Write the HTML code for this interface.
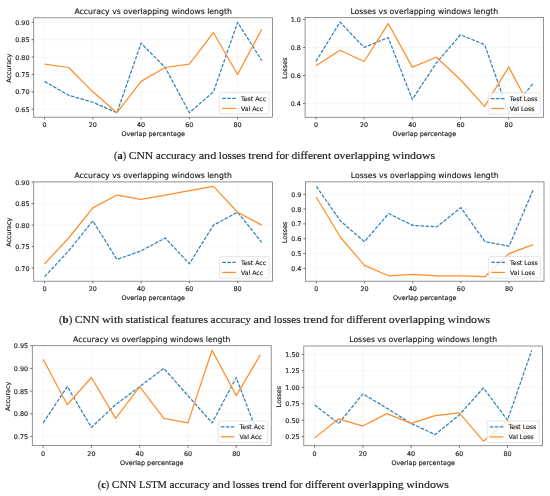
<!DOCTYPE html>
<html lang="en"><head><meta charset="utf-8"><title>Accuracy and losses trend for different overlapping windows</title>
<style>
html,body{margin:0;padding:0;background:#fff}
body{width:550px;height:496px;overflow:hidden}
svg{display:block;filter:blur(.33px)}
.t{font-family:"DejaVu Sans","Liberation Sans",sans-serif;font-size:6.4px;fill:#1c1c1c;stroke:#1c1c1c;stroke-width:.15}
.ti{font-family:"DejaVu Sans","Liberation Sans",sans-serif;font-size:7.72px;fill:#1c1c1c;stroke:#1c1c1c;stroke-width:.15}
.cap{font-family:"Liberation Serif","DejaVu Serif",serif;font-size:10.9px;fill:#1c1c1c;stroke:#1c1c1c;stroke-width:.16}
.lt{font-size:6.2px}
.gr{stroke:#b0b0b0;stroke-width:.5;stroke-opacity:.2;fill:none}
.tk{stroke:#555;stroke-width:.85;fill:none}
.fr{stroke:#707070;stroke-width:.75;fill:none}
.ln{fill:none;stroke-width:1.25;stroke-linejoin:round;stroke-linecap:butt}
.lg{fill:#fff;fill-opacity:.8;stroke:#ccc;stroke-width:.6;stroke-opacity:.8}
</style></head>
<body>
<svg width="550" height="496" viewBox="0 0 550 496">
<rect width="550" height="496" fill="#fff"/>
<g><rect x="33.7" y="17.8" width="238.9" height="99.4" fill="#fff"/>
<line x1="44.56" y1="17.8" x2="44.56" y2="117.2" class="gr"/>
<line x1="92.82" y1="17.8" x2="92.82" y2="117.2" class="gr"/>
<line x1="141.08" y1="17.8" x2="141.08" y2="117.2" class="gr"/>
<line x1="189.35" y1="17.8" x2="189.35" y2="117.2" class="gr"/>
<line x1="237.61" y1="17.8" x2="237.61" y2="117.2" class="gr"/>
<line x1="33.7" y1="109.21" x2="272.6" y2="109.21" class="gr"/>
<line x1="33.7" y1="91.83" x2="272.6" y2="91.83" class="gr"/>
<line x1="33.7" y1="74.45" x2="272.6" y2="74.45" class="gr"/>
<line x1="33.7" y1="57.07" x2="272.6" y2="57.07" class="gr"/>
<line x1="33.7" y1="39.7" x2="272.6" y2="39.7" class="gr"/>
<line x1="33.7" y1="22.32" x2="272.6" y2="22.32" class="gr"/>
<clipPath id="cp0"><rect x="33.7" y="17.8" width="238.9" height="99.4"/></clipPath>
<g clip-path="url(#cp0)"><polyline points="44.56,81.4 68.69,95.3 92.82,102.26 116.95,112.68 141.08,43.17 165.22,67.5 189.35,112.68 213.48,91.83 237.61,22.32 261.74,60.55" class="ln" stroke="#3282bf" stroke-dasharray="3.6 1.42"/>
<polyline points="44.56,64.02 68.69,67.5 92.82,91.83 116.95,112.68 141.08,81.4 165.22,67.5 189.35,64.02 213.48,32.74 237.61,74.45 261.74,29.27" class="ln" stroke="#ff8e2a"/></g>
<line x1="44.56" y1="117.2" x2="44.56" y2="119.3" class="tk"/>
<text x="44.56" y="127.15" class="t" text-anchor="middle">0</text>
<line x1="92.82" y1="117.2" x2="92.82" y2="119.3" class="tk"/>
<text x="92.82" y="127.15" class="t" text-anchor="middle">20</text>
<line x1="141.08" y1="117.2" x2="141.08" y2="119.3" class="tk"/>
<text x="141.08" y="127.15" class="t" text-anchor="middle">40</text>
<line x1="189.35" y1="117.2" x2="189.35" y2="119.3" class="tk"/>
<text x="189.35" y="127.15" class="t" text-anchor="middle">60</text>
<line x1="237.61" y1="117.2" x2="237.61" y2="119.3" class="tk"/>
<text x="237.61" y="127.15" class="t" text-anchor="middle">80</text>
<line x1="31.6" y1="109.21" x2="33.7" y2="109.21" class="tk"/>
<text x="29.5" y="111.76" class="t" text-anchor="end">0.65</text>
<line x1="31.6" y1="91.83" x2="33.7" y2="91.83" class="tk"/>
<text x="29.5" y="94.38" class="t" text-anchor="end">0.70</text>
<line x1="31.6" y1="74.45" x2="33.7" y2="74.45" class="tk"/>
<text x="29.5" y="77" class="t" text-anchor="end">0.75</text>
<line x1="31.6" y1="57.07" x2="33.7" y2="57.07" class="tk"/>
<text x="29.5" y="59.62" class="t" text-anchor="end">0.80</text>
<line x1="31.6" y1="39.7" x2="33.7" y2="39.7" class="tk"/>
<text x="29.5" y="42.25" class="t" text-anchor="end">0.85</text>
<line x1="31.6" y1="22.32" x2="33.7" y2="22.32" class="tk"/>
<text x="29.5" y="24.87" class="t" text-anchor="end">0.90</text>
<rect x="33.7" y="17.8" width="238.9" height="99.4" class="fr"/>
<text x="153.15" y="14" class="ti" text-anchor="middle">Accuracy vs overlapping windows length</text>
<text x="153.15" y="136.25" class="t" text-anchor="middle">Overlap percentage</text>
<text transform="translate(11.15 68.2) rotate(-90)" class="t" text-anchor="middle">Accuracy</text>
<rect x="219.5" y="92.6" width="49.7" height="21.4" rx="1.2" class="lg"/>
<line x1="222.2" y1="98.45" x2="235.8" y2="98.45" class="ln" stroke="#3282bf" stroke-dasharray="3.6 1.42"/>
<line x1="222.2" y1="108.4" x2="235.8" y2="108.4" class="ln" stroke="#ff8e2a"/>
<text x="241" y="100.65" class="t lt">Test Acc</text>
<text x="241" y="110.6" class="t lt">Val Acc</text></g>
<g><rect x="305.1" y="17.6" width="238.5" height="99.7" fill="#fff"/>
<line x1="315.94" y1="17.6" x2="315.94" y2="117.3" class="gr"/>
<line x1="364.12" y1="17.6" x2="364.12" y2="117.3" class="gr"/>
<line x1="412.3" y1="17.6" x2="412.3" y2="117.3" class="gr"/>
<line x1="460.49" y1="17.6" x2="460.49" y2="117.3" class="gr"/>
<line x1="508.67" y1="17.6" x2="508.67" y2="117.3" class="gr"/>
<line x1="305.1" y1="103.63" x2="543.6" y2="103.63" class="gr"/>
<line x1="305.1" y1="75.53" x2="543.6" y2="75.53" class="gr"/>
<line x1="305.1" y1="47.43" x2="543.6" y2="47.43" class="gr"/>
<line x1="305.1" y1="19.32" x2="543.6" y2="19.32" class="gr"/>
<clipPath id="cp1"><rect x="305.1" y="17.6" width="238.5" height="99.7"/></clipPath>
<g clip-path="url(#cp1)"><polyline points="315.94,61.48 340.03,22.13 364.12,47.43 388.21,37.59 412.3,99.42 436.4,62.88 460.49,34.78 484.58,44.62 508.67,112.77 532.76,83.96" class="ln" stroke="#3282bf" stroke-dasharray="3.6 1.42"/>
<polyline points="315.94,65.69 340.03,50.24 364.12,61.48 388.21,23.54 412.3,67.1 436.4,57.26 460.49,79.75 484.58,106.44 508.67,67.1 532.76,112.07" class="ln" stroke="#ff8e2a"/></g>
<line x1="315.94" y1="117.3" x2="315.94" y2="119.4" class="tk"/>
<text x="315.94" y="127.25" class="t" text-anchor="middle">0</text>
<line x1="364.12" y1="117.3" x2="364.12" y2="119.4" class="tk"/>
<text x="364.12" y="127.25" class="t" text-anchor="middle">20</text>
<line x1="412.3" y1="117.3" x2="412.3" y2="119.4" class="tk"/>
<text x="412.3" y="127.25" class="t" text-anchor="middle">40</text>
<line x1="460.49" y1="117.3" x2="460.49" y2="119.4" class="tk"/>
<text x="460.49" y="127.25" class="t" text-anchor="middle">60</text>
<line x1="508.67" y1="117.3" x2="508.67" y2="119.4" class="tk"/>
<text x="508.67" y="127.25" class="t" text-anchor="middle">80</text>
<line x1="303" y1="103.63" x2="305.1" y2="103.63" class="tk"/>
<text x="300.9" y="106.18" class="t" text-anchor="end">0.4</text>
<line x1="303" y1="75.53" x2="305.1" y2="75.53" class="tk"/>
<text x="300.9" y="78.08" class="t" text-anchor="end">0.6</text>
<line x1="303" y1="47.43" x2="305.1" y2="47.43" class="tk"/>
<text x="300.9" y="49.98" class="t" text-anchor="end">0.8</text>
<line x1="303" y1="19.32" x2="305.1" y2="19.32" class="tk"/>
<text x="300.9" y="21.87" class="t" text-anchor="end">1.0</text>
<rect x="305.1" y="17.6" width="238.5" height="99.7" class="fr"/>
<text x="424.35" y="13.8" class="ti" text-anchor="middle">Losses vs overlapping windows length</text>
<text x="424.35" y="136.35" class="t" text-anchor="middle">Overlap percentage</text>
<text transform="translate(286.62 68.15) rotate(-90)" class="t" text-anchor="middle">Losses</text>
<rect x="488.2" y="92.7" width="52" height="21.4" rx="1.2" class="lg"/>
<line x1="490.9" y1="98.55" x2="504.5" y2="98.55" class="ln" stroke="#3282bf" stroke-dasharray="3.6 1.42"/>
<line x1="490.9" y1="108.5" x2="504.5" y2="108.5" class="ln" stroke="#ff8e2a"/>
<text x="509.7" y="100.75" class="t lt">Test Loss</text>
<text x="509.7" y="110.7" class="t lt">Val Loss</text></g>
<g><rect x="33.7" y="181.9" width="238.9" height="99.3" fill="#fff"/>
<line x1="44.56" y1="181.9" x2="44.56" y2="281.2" class="gr"/>
<line x1="92.82" y1="181.9" x2="92.82" y2="281.2" class="gr"/>
<line x1="141.08" y1="181.9" x2="141.08" y2="281.2" class="gr"/>
<line x1="189.35" y1="181.9" x2="189.35" y2="281.2" class="gr"/>
<line x1="237.61" y1="181.9" x2="237.61" y2="281.2" class="gr"/>
<line x1="33.7" y1="268.09" x2="272.6" y2="268.09" class="gr"/>
<line x1="33.7" y1="246.6" x2="272.6" y2="246.6" class="gr"/>
<line x1="33.7" y1="225.1" x2="272.6" y2="225.1" class="gr"/>
<line x1="33.7" y1="203.61" x2="272.6" y2="203.61" class="gr"/>
<line x1="33.7" y1="182.11" x2="272.6" y2="182.11" class="gr"/>
<clipPath id="cp2"><rect x="33.7" y="181.9" width="238.9" height="99.3"/></clipPath>
<g clip-path="url(#cp2)"><polyline points="44.56,276.69 68.69,250.89 92.82,220.8 116.95,259.49 141.08,250.89 165.22,238 189.35,263.79 213.48,225.1 237.61,212.21 261.74,242.3" class="ln" stroke="#3282bf" stroke-dasharray="3.6 1.42"/>
<polyline points="44.56,263.79 68.69,238 92.82,207.91 116.95,195.01 141.08,199.31 165.22,195.01 189.35,190.71 213.48,186.41 237.61,212.21 261.74,225.1" class="ln" stroke="#ff8e2a"/></g>
<line x1="44.56" y1="281.2" x2="44.56" y2="283.3" class="tk"/>
<text x="44.56" y="291.15" class="t" text-anchor="middle">0</text>
<line x1="92.82" y1="281.2" x2="92.82" y2="283.3" class="tk"/>
<text x="92.82" y="291.15" class="t" text-anchor="middle">20</text>
<line x1="141.08" y1="281.2" x2="141.08" y2="283.3" class="tk"/>
<text x="141.08" y="291.15" class="t" text-anchor="middle">40</text>
<line x1="189.35" y1="281.2" x2="189.35" y2="283.3" class="tk"/>
<text x="189.35" y="291.15" class="t" text-anchor="middle">60</text>
<line x1="237.61" y1="281.2" x2="237.61" y2="283.3" class="tk"/>
<text x="237.61" y="291.15" class="t" text-anchor="middle">80</text>
<line x1="31.6" y1="268.09" x2="33.7" y2="268.09" class="tk"/>
<text x="29.5" y="270.64" class="t" text-anchor="end">0.70</text>
<line x1="31.6" y1="246.6" x2="33.7" y2="246.6" class="tk"/>
<text x="29.5" y="249.15" class="t" text-anchor="end">0.75</text>
<line x1="31.6" y1="225.1" x2="33.7" y2="225.1" class="tk"/>
<text x="29.5" y="227.65" class="t" text-anchor="end">0.80</text>
<line x1="31.6" y1="203.61" x2="33.7" y2="203.61" class="tk"/>
<text x="29.5" y="206.16" class="t" text-anchor="end">0.85</text>
<line x1="31.6" y1="182.11" x2="33.7" y2="182.11" class="tk"/>
<text x="29.5" y="184.66" class="t" text-anchor="end">0.90</text>
<rect x="33.7" y="181.9" width="238.9" height="99.3" class="fr"/>
<text x="153.15" y="178.1" class="ti" text-anchor="middle">Accuracy vs overlapping windows length</text>
<text x="153.15" y="300.25" class="t" text-anchor="middle">Overlap percentage</text>
<text transform="translate(11.15 232.25) rotate(-90)" class="t" text-anchor="middle">Accuracy</text>
<rect x="219.5" y="256.6" width="49.7" height="21.4" rx="1.2" class="lg"/>
<line x1="222.2" y1="262.45" x2="235.8" y2="262.45" class="ln" stroke="#3282bf" stroke-dasharray="3.6 1.42"/>
<line x1="222.2" y1="272.4" x2="235.8" y2="272.4" class="ln" stroke="#ff8e2a"/>
<text x="241" y="264.65" class="t lt">Test Acc</text>
<text x="241" y="274.6" class="t lt">Val Acc</text></g>
<g><rect x="305.5" y="181.9" width="238.5" height="99.3" fill="#fff"/>
<line x1="316.34" y1="181.9" x2="316.34" y2="281.2" class="gr"/>
<line x1="364.52" y1="181.9" x2="364.52" y2="281.2" class="gr"/>
<line x1="412.7" y1="181.9" x2="412.7" y2="281.2" class="gr"/>
<line x1="460.89" y1="181.9" x2="460.89" y2="281.2" class="gr"/>
<line x1="509.07" y1="181.9" x2="509.07" y2="281.2" class="gr"/>
<line x1="305.5" y1="268.39" x2="544" y2="268.39" class="gr"/>
<line x1="305.5" y1="253.56" x2="544" y2="253.56" class="gr"/>
<line x1="305.5" y1="238.74" x2="544" y2="238.74" class="gr"/>
<line x1="305.5" y1="223.92" x2="544" y2="223.92" class="gr"/>
<line x1="305.5" y1="209.09" x2="544" y2="209.09" class="gr"/>
<line x1="305.5" y1="194.27" x2="544" y2="194.27" class="gr"/>
<clipPath id="cp3"><rect x="305.5" y="181.9" width="238.5" height="99.3"/></clipPath>
<g clip-path="url(#cp3)"><polyline points="316.34,186.41 340.43,220.95 364.52,241.7 388.61,213.54 412.7,225.4 436.8,226.88 460.89,207.61 484.98,241.7 509.07,246.15 533.16,189.82" class="ln" stroke="#3282bf" stroke-dasharray="3.6 1.42"/>
<polyline points="316.34,197.23 340.43,237.26 364.52,265.42 388.61,275.8 412.7,274.31 436.8,275.8 460.89,275.8 484.98,276.69 509.07,253.56 533.16,244.67" class="ln" stroke="#ff8e2a"/></g>
<line x1="316.34" y1="281.2" x2="316.34" y2="283.3" class="tk"/>
<text x="316.34" y="291.15" class="t" text-anchor="middle">0</text>
<line x1="364.52" y1="281.2" x2="364.52" y2="283.3" class="tk"/>
<text x="364.52" y="291.15" class="t" text-anchor="middle">20</text>
<line x1="412.7" y1="281.2" x2="412.7" y2="283.3" class="tk"/>
<text x="412.7" y="291.15" class="t" text-anchor="middle">40</text>
<line x1="460.89" y1="281.2" x2="460.89" y2="283.3" class="tk"/>
<text x="460.89" y="291.15" class="t" text-anchor="middle">60</text>
<line x1="509.07" y1="281.2" x2="509.07" y2="283.3" class="tk"/>
<text x="509.07" y="291.15" class="t" text-anchor="middle">80</text>
<line x1="303.4" y1="268.39" x2="305.5" y2="268.39" class="tk"/>
<text x="301.3" y="270.94" class="t" text-anchor="end">0.4</text>
<line x1="303.4" y1="253.56" x2="305.5" y2="253.56" class="tk"/>
<text x="301.3" y="256.11" class="t" text-anchor="end">0.5</text>
<line x1="303.4" y1="238.74" x2="305.5" y2="238.74" class="tk"/>
<text x="301.3" y="241.29" class="t" text-anchor="end">0.6</text>
<line x1="303.4" y1="223.92" x2="305.5" y2="223.92" class="tk"/>
<text x="301.3" y="226.47" class="t" text-anchor="end">0.7</text>
<line x1="303.4" y1="209.09" x2="305.5" y2="209.09" class="tk"/>
<text x="301.3" y="211.64" class="t" text-anchor="end">0.8</text>
<line x1="303.4" y1="194.27" x2="305.5" y2="194.27" class="tk"/>
<text x="301.3" y="196.82" class="t" text-anchor="end">0.9</text>
<rect x="305.5" y="181.9" width="238.5" height="99.3" class="fr"/>
<text x="424.75" y="178.1" class="ti" text-anchor="middle">Losses vs overlapping windows length</text>
<text x="424.75" y="300.25" class="t" text-anchor="middle">Overlap percentage</text>
<text transform="translate(287.02 232.25) rotate(-90)" class="t" text-anchor="middle">Losses</text>
<rect x="488.6" y="256.6" width="52" height="21.4" rx="1.2" class="lg"/>
<line x1="491.3" y1="262.45" x2="504.9" y2="262.45" class="ln" stroke="#3282bf" stroke-dasharray="3.6 1.42"/>
<line x1="491.3" y1="272.4" x2="504.9" y2="272.4" class="ln" stroke="#ff8e2a"/>
<text x="510.1" y="264.65" class="t lt">Test Loss</text>
<text x="510.1" y="274.6" class="t lt">Val Loss</text></g>
<g><rect x="32.3" y="345.7" width="238.9" height="99.9" fill="#fff"/>
<line x1="43.16" y1="345.7" x2="43.16" y2="445.6" class="gr"/>
<line x1="91.42" y1="345.7" x2="91.42" y2="445.6" class="gr"/>
<line x1="139.68" y1="345.7" x2="139.68" y2="445.6" class="gr"/>
<line x1="187.95" y1="345.7" x2="187.95" y2="445.6" class="gr"/>
<line x1="236.21" y1="345.7" x2="236.21" y2="445.6" class="gr"/>
<line x1="32.3" y1="436.52" x2="271.2" y2="436.52" class="gr"/>
<line x1="32.3" y1="413.81" x2="271.2" y2="413.81" class="gr"/>
<line x1="32.3" y1="391.11" x2="271.2" y2="391.11" class="gr"/>
<line x1="32.3" y1="368.4" x2="271.2" y2="368.4" class="gr"/>
<line x1="32.3" y1="345.7" x2="271.2" y2="345.7" class="gr"/>
<clipPath id="cp4"><rect x="32.3" y="345.7" width="238.9" height="99.9"/></clipPath>
<g clip-path="url(#cp4)"><polyline points="43.16,422.9 67.29,386.57 91.42,427.44 115.55,404.73 139.68,386.57 163.82,368.4 187.95,395.65 212.08,422.9 236.21,377.49 260.34,441.06" class="ln" stroke="#3282bf" stroke-dasharray="3.6 1.42"/>
<polyline points="43.16,359.32 67.29,404.73 91.42,377.49 115.55,418.35 139.68,386.57 163.82,418.35 187.95,422.9 212.08,350.24 236.21,395.65 260.34,354.78" class="ln" stroke="#ff8e2a"/></g>
<line x1="43.16" y1="445.6" x2="43.16" y2="447.7" class="tk"/>
<text x="43.16" y="455.55" class="t" text-anchor="middle">0</text>
<line x1="91.42" y1="445.6" x2="91.42" y2="447.7" class="tk"/>
<text x="91.42" y="455.55" class="t" text-anchor="middle">20</text>
<line x1="139.68" y1="445.6" x2="139.68" y2="447.7" class="tk"/>
<text x="139.68" y="455.55" class="t" text-anchor="middle">40</text>
<line x1="187.95" y1="445.6" x2="187.95" y2="447.7" class="tk"/>
<text x="187.95" y="455.55" class="t" text-anchor="middle">60</text>
<line x1="236.21" y1="445.6" x2="236.21" y2="447.7" class="tk"/>
<text x="236.21" y="455.55" class="t" text-anchor="middle">80</text>
<line x1="30.2" y1="436.52" x2="32.3" y2="436.52" class="tk"/>
<text x="28.1" y="439.07" class="t" text-anchor="end">0.75</text>
<line x1="30.2" y1="413.81" x2="32.3" y2="413.81" class="tk"/>
<text x="28.1" y="416.36" class="t" text-anchor="end">0.80</text>
<line x1="30.2" y1="391.11" x2="32.3" y2="391.11" class="tk"/>
<text x="28.1" y="393.66" class="t" text-anchor="end">0.85</text>
<line x1="30.2" y1="368.4" x2="32.3" y2="368.4" class="tk"/>
<text x="28.1" y="370.95" class="t" text-anchor="end">0.90</text>
<line x1="30.2" y1="345.7" x2="32.3" y2="345.7" class="tk"/>
<text x="28.1" y="348.25" class="t" text-anchor="end">0.95</text>
<rect x="32.3" y="345.7" width="238.9" height="99.9" class="fr"/>
<text x="151.75" y="341.9" class="ti" text-anchor="middle">Accuracy vs overlapping windows length</text>
<text x="151.75" y="464.65" class="t" text-anchor="middle">Overlap percentage</text>
<text transform="translate(9.75 396.35) rotate(-90)" class="t" text-anchor="middle">Accuracy</text>
<rect x="218.1" y="421" width="49.7" height="21.4" rx="1.2" class="lg"/>
<line x1="220.8" y1="426.85" x2="234.4" y2="426.85" class="ln" stroke="#3282bf" stroke-dasharray="3.6 1.42"/>
<line x1="220.8" y1="436.8" x2="234.4" y2="436.8" class="ln" stroke="#ff8e2a"/>
<text x="239.6" y="429.05" class="t lt">Test Acc</text>
<text x="239.6" y="439" class="t lt">Val Acc</text></g>
<g><rect x="303.8" y="346" width="238.7" height="99.7" fill="#fff"/>
<line x1="314.65" y1="346" x2="314.65" y2="445.7" class="gr"/>
<line x1="362.87" y1="346" x2="362.87" y2="445.7" class="gr"/>
<line x1="411.09" y1="346" x2="411.09" y2="445.7" class="gr"/>
<line x1="459.32" y1="346" x2="459.32" y2="445.7" class="gr"/>
<line x1="507.54" y1="346" x2="507.54" y2="445.7" class="gr"/>
<line x1="303.8" y1="436.57" x2="542.5" y2="436.57" class="gr"/>
<line x1="303.8" y1="420.15" x2="542.5" y2="420.15" class="gr"/>
<line x1="303.8" y1="403.73" x2="542.5" y2="403.73" class="gr"/>
<line x1="303.8" y1="387.31" x2="542.5" y2="387.31" class="gr"/>
<line x1="303.8" y1="370.89" x2="542.5" y2="370.89" class="gr"/>
<line x1="303.8" y1="354.47" x2="542.5" y2="354.47" class="gr"/>
<clipPath id="cp5"><rect x="303.8" y="346" width="238.7" height="99.7"/></clipPath>
<g clip-path="url(#cp5)"><polyline points="314.65,405.04 338.76,423.43 362.87,393.88 386.98,408.33 411.09,423.43 435.21,434.6 459.32,414.9 483.43,387.97 507.54,420.15 531.65,350.53" class="ln" stroke="#3282bf" stroke-dasharray="3.6 1.42"/>
<polyline points="314.65,437.88 338.76,418.84 362.87,426.06 386.98,413.58 411.09,423.43 435.21,415.55 459.32,412.93 483.43,441.17 507.54,420.81 531.65,437.88" class="ln" stroke="#ff8e2a"/></g>
<line x1="314.65" y1="445.7" x2="314.65" y2="447.8" class="tk"/>
<text x="314.65" y="455.65" class="t" text-anchor="middle">0</text>
<line x1="362.87" y1="445.7" x2="362.87" y2="447.8" class="tk"/>
<text x="362.87" y="455.65" class="t" text-anchor="middle">20</text>
<line x1="411.09" y1="445.7" x2="411.09" y2="447.8" class="tk"/>
<text x="411.09" y="455.65" class="t" text-anchor="middle">40</text>
<line x1="459.32" y1="445.7" x2="459.32" y2="447.8" class="tk"/>
<text x="459.32" y="455.65" class="t" text-anchor="middle">60</text>
<line x1="507.54" y1="445.7" x2="507.54" y2="447.8" class="tk"/>
<text x="507.54" y="455.65" class="t" text-anchor="middle">80</text>
<line x1="301.7" y1="436.57" x2="303.8" y2="436.57" class="tk"/>
<text x="299.6" y="439.12" class="t" text-anchor="end">0.25</text>
<line x1="301.7" y1="420.15" x2="303.8" y2="420.15" class="tk"/>
<text x="299.6" y="422.7" class="t" text-anchor="end">0.50</text>
<line x1="301.7" y1="403.73" x2="303.8" y2="403.73" class="tk"/>
<text x="299.6" y="406.28" class="t" text-anchor="end">0.75</text>
<line x1="301.7" y1="387.31" x2="303.8" y2="387.31" class="tk"/>
<text x="299.6" y="389.86" class="t" text-anchor="end">1.00</text>
<line x1="301.7" y1="370.89" x2="303.8" y2="370.89" class="tk"/>
<text x="299.6" y="373.44" class="t" text-anchor="end">1.25</text>
<line x1="301.7" y1="354.47" x2="303.8" y2="354.47" class="tk"/>
<text x="299.6" y="357.02" class="t" text-anchor="end">1.50</text>
<rect x="303.8" y="346" width="238.7" height="99.7" class="fr"/>
<text x="423.15" y="342.2" class="ti" text-anchor="middle">Losses vs overlapping windows length</text>
<text x="423.15" y="464.75" class="t" text-anchor="middle">Overlap percentage</text>
<text transform="translate(281.25 396.55) rotate(-90)" class="t" text-anchor="middle">Losses</text>
<rect x="487.1" y="421.1" width="52" height="21.4" rx="1.2" class="lg"/>
<line x1="489.8" y1="426.95" x2="503.4" y2="426.95" class="ln" stroke="#3282bf" stroke-dasharray="3.6 1.42"/>
<line x1="489.8" y1="436.9" x2="503.4" y2="436.9" class="ln" stroke="#ff8e2a"/>
<text x="508.6" y="429.15" class="t lt">Test Loss</text>
<text x="508.6" y="439.1" class="t lt">Val Loss</text></g>
<text y="159.1" class="cap"><tspan x="114" textLength="12.09" lengthAdjust="spacingAndGlyphs">(<tspan font-weight="bold">a</tspan>)</tspan> <tspan x="128.68" textLength="24.58" lengthAdjust="spacingAndGlyphs">CNN</tspan> <tspan x="155.84" textLength="40.28" lengthAdjust="spacingAndGlyphs">accuracy</tspan> <tspan x="198.71" textLength="17.55" lengthAdjust="spacingAndGlyphs">and</tspan> <tspan x="218.85" textLength="26.82" lengthAdjust="spacingAndGlyphs">losses</tspan> <tspan x="248.27" textLength="24.8" lengthAdjust="spacingAndGlyphs">trend</tspan> <tspan x="275.66" textLength="13.21" lengthAdjust="spacingAndGlyphs">for</tspan> <tspan x="291.46" textLength="39.69" lengthAdjust="spacingAndGlyphs">different</tspan> <tspan x="333.74" textLength="56.04" lengthAdjust="spacingAndGlyphs">overlapping</tspan> <tspan x="392.38" textLength="42.72" lengthAdjust="spacingAndGlyphs">windows</tspan></text>
<text y="323.3" class="cap"><tspan x="59" textLength="13.25" lengthAdjust="spacingAndGlyphs">(<tspan font-weight="bold">b</tspan>)</tspan> <tspan x="74.85" textLength="24.6" lengthAdjust="spacingAndGlyphs">CNN</tspan> <tspan x="102.04" textLength="21.1" lengthAdjust="spacingAndGlyphs">with</tspan> <tspan x="125.73" textLength="42.99" lengthAdjust="spacingAndGlyphs">statistical</tspan> <tspan x="171.32" textLength="36.72" lengthAdjust="spacingAndGlyphs">features</tspan> <tspan x="210.63" textLength="40.32" lengthAdjust="spacingAndGlyphs">accuracy</tspan> <tspan x="253.55" textLength="17.57" lengthAdjust="spacingAndGlyphs">and</tspan> <tspan x="273.71" textLength="26.85" lengthAdjust="spacingAndGlyphs">losses</tspan> <tspan x="303.16" textLength="24.83" lengthAdjust="spacingAndGlyphs">trend</tspan> <tspan x="330.59" textLength="13.22" lengthAdjust="spacingAndGlyphs">for</tspan> <tspan x="346.4" textLength="39.73" lengthAdjust="spacingAndGlyphs">different</tspan> <tspan x="388.73" textLength="56.11" lengthAdjust="spacingAndGlyphs">overlapping</tspan> <tspan x="447.43" textLength="42.77" lengthAdjust="spacingAndGlyphs">windows</tspan></text>
<text y="487.8" class="cap"><tspan x="97.7" textLength="11.51" lengthAdjust="spacingAndGlyphs">(<tspan font-weight="bold">c</tspan>)</tspan> <tspan x="111.81" textLength="24.59" lengthAdjust="spacingAndGlyphs">CNN</tspan> <tspan x="138.99" textLength="27.95" lengthAdjust="spacingAndGlyphs">LSTM</tspan> <tspan x="169.54" textLength="40.31" lengthAdjust="spacingAndGlyphs">accuracy</tspan> <tspan x="212.44" textLength="17.56" lengthAdjust="spacingAndGlyphs">and</tspan> <tspan x="232.6" textLength="26.84" lengthAdjust="spacingAndGlyphs">losses</tspan> <tspan x="262.03" textLength="24.82" lengthAdjust="spacingAndGlyphs">trend</tspan> <tspan x="289.45" textLength="13.21" lengthAdjust="spacingAndGlyphs">for</tspan> <tspan x="305.26" textLength="39.72" lengthAdjust="spacingAndGlyphs">different</tspan> <tspan x="347.57" textLength="56.08" lengthAdjust="spacingAndGlyphs">overlapping</tspan> <tspan x="406.24" textLength="42.76" lengthAdjust="spacingAndGlyphs">windows</tspan></text>
</svg>
</body></html>
